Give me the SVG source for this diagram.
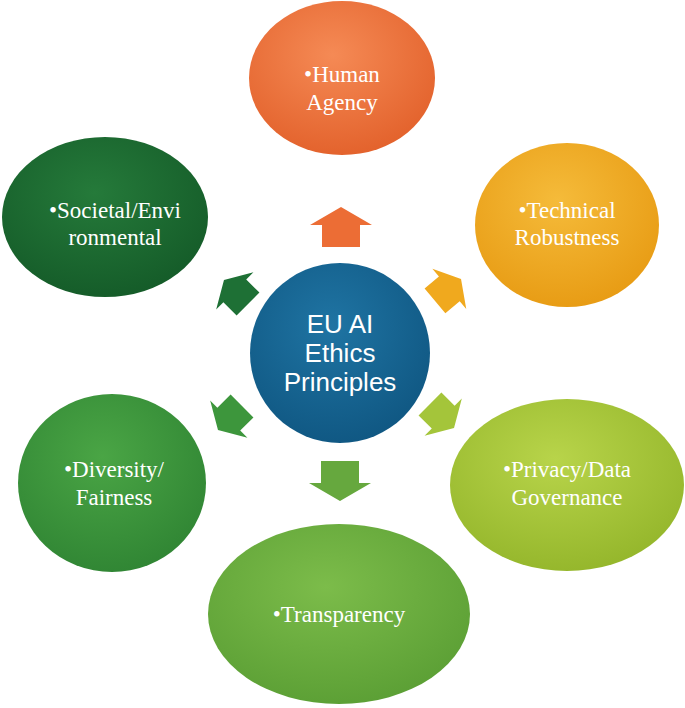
<svg xmlns="http://www.w3.org/2000/svg" width="685" height="708" viewBox="0 0 685 708">
<defs>
<radialGradient id="gO" cx="0.45" cy="0.35" r="0.7"><stop offset="0" stop-color="#f58a55"/><stop offset="1" stop-color="#e2602a"/></radialGradient>
<radialGradient id="gY" cx="0.45" cy="0.35" r="0.7"><stop offset="0" stop-color="#f5bb3a"/><stop offset="1" stop-color="#e79a12"/></radialGradient>
<radialGradient id="gD" cx="0.45" cy="0.35" r="0.7"><stop offset="0" stop-color="#257a3a"/><stop offset="1" stop-color="#145a28"/></radialGradient>
<radialGradient id="gG" cx="0.45" cy="0.35" r="0.7"><stop offset="0" stop-color="#4aa545"/><stop offset="1" stop-color="#2f8433"/></radialGradient>
<radialGradient id="gL" cx="0.45" cy="0.35" r="0.7"><stop offset="0" stop-color="#b8d44a"/><stop offset="1" stop-color="#93b52a"/></radialGradient>
<radialGradient id="gM" cx="0.45" cy="0.35" r="0.7"><stop offset="0" stop-color="#7cbc4a"/><stop offset="1" stop-color="#5a9e34"/></radialGradient>
<radialGradient id="gB" cx="0.45" cy="0.35" r="0.7"><stop offset="0" stop-color="#1f74a3"/><stop offset="1" stop-color="#0f5681"/></radialGradient>
<path id="arr" d="M0,-20 L31,-2 L19,-2 L19,20 L-19,20 L-19,-2 L-31,-2 Z"/>
</defs>
<style>
.t{font-family:"Liberation Serif",serif;font-size:23px;fill:#fff;text-anchor:middle}
.c{font-family:"Liberation Sans",sans-serif;font-size:26px;fill:#fff;text-anchor:middle}
</style>
<rect width="685" height="708" fill="#fff"/>
<g id="connectors">
<use href="#arr" transform="translate(341,227)" fill="#ec6d35"/>
<use href="#arr" transform="translate(448,290) rotate(50) scale(0.85)" fill="#f0a91e"/>
<use href="#arr" transform="translate(236,292) rotate(-45) scale(0.85)" fill="#1e7035"/>
<use href="#arr" transform="translate(230,418) rotate(-135) scale(0.85)" fill="#3d963c"/>
<use href="#arr" transform="translate(442,416) rotate(135) scale(0.85)" fill="#a4c53a"/>
<use href="#arr" transform="translate(340,481) rotate(180)" fill="#66a83e"/>
</g>
<g id="human"><ellipse cx="342" cy="78" rx="93" ry="77" fill="url(#gO)"/><text class="t" x="342" y="82">•Human</text><text class="t" x="342" y="110">Agency</text></g>
<g id="technical"><ellipse cx="567" cy="225" rx="92" ry="82" fill="url(#gY)"/><text class="t" x="567" y="218">•Technical</text><text class="t" x="567" y="245">Robustness</text></g>
<g id="societal"><ellipse cx="105" cy="217" rx="103" ry="80" fill="url(#gD)"/><text class="t" x="115" y="218">•Societal/Envi</text><text class="t" x="115" y="245">ronmental</text></g>
<g id="diversity"><ellipse cx="112" cy="483" rx="94" ry="89" fill="url(#gG)"/><text class="t" x="114" y="477">•Diversity/</text><text class="t" x="114" y="505">Fairness</text></g>
<g id="privacy"><ellipse cx="567" cy="485" rx="117" ry="86" fill="url(#gL)"/><text class="t" x="567" y="477">•Privacy/Data</text><text class="t" x="567" y="505">Governance</text></g>
<g id="transparency"><ellipse cx="339" cy="614" rx="131" ry="90" fill="url(#gM)"/><text class="t" x="339" y="622">•Transparency</text></g>
<g id="center"><circle cx="340" cy="353" r="90" fill="url(#gB)"/><text class="c" x="340" y="333">EU AI</text><text class="c" x="340" y="362">Ethics</text><text class="c" x="340" y="391">Principles</text></g>
</svg>
